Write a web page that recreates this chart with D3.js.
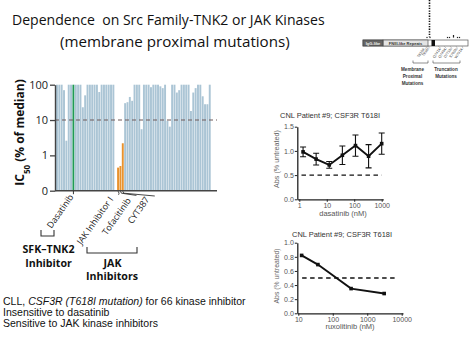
<!DOCTYPE html>
<html><head><meta charset="utf-8">
<script src="https://cdn.jsdelivr.net/npm/d3@7"></script>
<style>body{margin:0;background:#fff} svg{display:block} text{white-space:pre}</style>
</head><body>
<svg id="c" width="474" height="355"></svg>
<script>
// ---------- data ----------
const inhibitorIndex = d3.range(66);
const ic50Values = [100,100,100,70,2.6,100,100,100,100,100,100,23,50,100,100,100,100,100,62,100,
  100,100,100,100,100,0.1,0.45,0.5,2.2,30,32,45,35,100,100,100,5.5,100,100,100,
  85,100,100,100,90,80,100,9.5,6.5,100,100,60,70,100,100,100,100,18,60,80,
  100,100,47,28,28,100];
const highlightIdx = {7:"#1f9a56", 26:"#e8922e", 27:"#e8922e", 28:"#e8922e"};
const icTicks = [0.1, 1, 10, 100];
const icTickLabels = ["0", "1", "10", "100"];
const drugLabels = ["Dasatinib", "JAK Inhibitor I", "Tofacitinib", "CYT387"];
const drugLabelIdx = [7, 26, 27, 28];

const dasaDose = [1.37, 4.1, 12.3, 37, 111, 333, 1000];
const dasaAbs  = [0.98, 0.83, 0.71, 0.91, 1.11, 0.89, 1.15];
const dasaErr  = [0.10, 0.12, 0.07, 0.19, 0.22, 0.24, 0.22];
const dasaXTicks = [1, 10, 100, 1000];
const dasaYTicks = [0, 0.5, 1.0, 1.5];

const ruxDose = [12.5, 37, 340, 3100];
const ruxAbs  = [0.82, 0.69, 0.35, 0.28];
const ruxXTicks = [10, 100, 1000, 10000];
const ruxYTicks = [0, 0.2, 0.4, 0.6, 0.8, 1.0];

const truncLabels = ["Q741X", "Q749X", "D771fs", "S783fs", "W791X"];
const mpLabels = ["T615A", "T618I"];

// ---------- helpers ----------
const svg = d3.select("#c");
function fit(sel, w) {
  const cur = parseFloat(sel.attr("font-size"));
  const len = sel.node().getComputedTextLength();
  sel.attr("font-size", (cur * w / len).toFixed(2));
  return sel;
}
const SANS = "'Open Sans', 'Noto Sans', sans-serif";
const ARIAL = "'Liberation Sans', Arial, sans-serif";

// ---------- title ----------
const t1 = svg.append("text").attr("x", 12).attr("y", 25).attr("font-family", SANS)
  .attr("font-size", 15).attr("fill", "#111").text("Dependence  on Src Family-TNK2 or JAK Kinases");
fit(t1, 313);
const t2 = svg.append("text").attr("x", 60).attr("y", 47).attr("font-family", SANS)
  .attr("font-size", 15).attr("fill", "#111").text("(membrane proximal mutations)");
fit(t2, 230);

// ---------- bar chart ----------
const y = d3.scaleLog().domain([0.1, 100]).range([190.7, 84.7]);
const x = d3.scaleBand().domain(inhibitorIndex).range([56, 210.7]).paddingInner(0.18).paddingOuter(0);
const bg = svg.append("g");
bg.selectAll("rect").data(ic50Values).join("rect")
  .attr("x", (d, i) => x(i)).attr("width", x.bandwidth())
  .attr("y", d => y(d)).attr("height", d => y(0.1) - y(d))
  .attr("fill", (d, i) => highlightIdx[i] || "#abc5d5");

bg.append("line").attr("x1", 55).attr("x2", 217).attr("y1", y(10)).attr("y2", y(10))
  .attr("stroke", "#6e5a5a").attr("stroke-width", 1.1).attr("stroke-dasharray", "4,3");

const ya = bg.append("g").attr("transform", "translate(55,0)")
  .call(d3.axisLeft(y).tickValues(icTicks).tickFormat((d, i) => icTickLabels[i]).tickSize(5).tickSizeOuter(0).tickPadding(2));
ya.select(".domain").attr("stroke", "#444").attr("stroke-width", 1.4);
ya.selectAll(".tick line").attr("stroke", "#444").attr("stroke-width", 1.3);
ya.selectAll(".tick text").attr("font-family", SANS).attr("font-size", 11).attr("fill", "#222");
bg.append("line").attr("x1", 55).attr("x2", 217).attr("y1", y(0.1)).attr("y2", y(0.1))
  .attr("stroke", "#444").attr("stroke-width", 1.4);

const yl = bg.append("text").attr("transform", `translate(24,${132.5}) rotate(-90)`)
  .attr("text-anchor", "middle").attr("font-family", SANS).attr("font-weight", "bold")
  .attr("font-size", 12).attr("fill", "#111");
yl.append("tspan").text("IC");
yl.append("tspan").attr("font-size", 8).attr("baseline-shift", "sub").text("50");
yl.append("tspan").text(" (% of median)");

// drug labels
const labelOffset = [{dx: 0.5, dy: 197}, {dx: -4.5, dy: 199.5}, {dx: 11, dy: 200.5}, {dx: 27, dy: 199.5}];
const base = y(0.1);
const drugTexts = [];
drugLabels.forEach((name, k) => {
  const cx = x(drugLabelIdx[k]) + x.bandwidth() / 2;
  const ax = cx + labelOffset[k].dx, ay = labelOffset[k].dy;
  if (k === 0) {
    bg.append("line").attr("x1", cx).attr("x2", cx).attr("y1", base).attr("y2", base + 3.5)
      .attr("stroke", "#333").attr("stroke-width", 1);
  } else {
    bg.append("polyline").attr("points", `${cx},${base + 0.5} ${cx + 1},${base + 2.5} ${ax + 5},${base + 3.5 + k * 0.6}`)
      .attr("fill", "none").attr("stroke", "#333").attr("stroke-width", 0.9);
  }
  drugTexts.push(bg.append("text").attr("transform", `translate(${ax},${ay}) rotate(-55)`)
    .attr("text-anchor", "end").attr("font-family", SANS).attr("font-size", 10)
    .attr("fill", "#222").text(name));
});
fit(drugTexts[1], 56);
drugTexts.forEach(t => t.attr("font-size", drugTexts[1].attr("font-size")));

// brackets
bg.append("path").attr("d", "M41,230V236H54V230").attr("fill", "none").attr("stroke", "#333").attr("stroke-width", 1.1);
bg.append("path").attr("d", "M87,247V253H137V247").attr("fill", "none").attr("stroke", "#333").attr("stroke-width", 1.1);
const grpText = [["SFK\u2013TNK2", 48.5, 252.7], ["Inhibitor", 48.5, 266.7], ["JAK", 112.5, 267.3], ["Inhibitors", 112, 280]];
const grpSel = grpText.map(([s, gx, gy]) => bg.append("text").attr("x", gx).attr("y", gy).attr("text-anchor", "middle")
    .attr("font-family", SANS).attr("font-weight", "bold").attr("font-size", 11).attr("fill", "#111").text(s));
fit(grpSel[0], 52);
grpSel.forEach(t => t.attr("font-size", grpSel[0].attr("font-size")));

// bottom notes (separate pieces so nothing overlaps)
const NOTE = ARIAL;
const noteY = [304.8, 316.1, 327.4];
const probe = svg.append("text").attr("font-family", NOTE).attr("font-size", 10)
  .text("CLL, CSF3R (T618I mutation) for 66 kinase inhibitor");
const noteFs = 10 * 243 / probe.node().getComputedTextLength();
probe.remove();
const pieces = [["CLL,", "normal"], ["CSF3R (T618I mutation)", "italic"], ["for 66 kinase inhibitor", "normal"]];
let px0 = 3;
const spaceW = noteFs * 0.278;
pieces.forEach(([s, st]) => {
  const t = svg.append("text").attr("x", px0).attr("y", noteY[0]).attr("font-family", NOTE)
    .attr("font-size", noteFs).attr("font-style", st).attr("fill", "#111").text(s);
  px0 += t.node().getComputedTextLength() + spaceW;
});
svg.append("text").attr("x", 3).attr("y", noteY[1]).attr("font-family", NOTE).attr("font-size", noteFs).attr("fill", "#111").text("Insensitive to dasatinib");
svg.append("text").attr("x", 3).attr("y", noteY[2]).attr("font-family", NOTE).attr("font-size", noteFs).attr("fill", "#111").text("Sensitive to JAK kinase inhibitors");

// ---------- dose-response charts ----------
function doseChart(o) {
  const g = svg.append("g");
  const xs = d3.scaleLog().domain(o.xDom).range([297.3, o.xEnd]);
  const ys = d3.scaleLinear().domain(o.yDom).range([o.y0, o.y1]);
  const xa = g.append("g").attr("transform", `translate(0,${o.y0})`)
    .call(d3.axisBottom(xs).tickValues(o.xTicks).tickFormat(d3.format("d")).tickSize(2.5).tickSizeOuter(0).tickPadding(1));
  const yaa = g.append("g").attr("transform", "translate(297.3,0)")
    .call(d3.axisLeft(ys).tickValues(o.yTicks).tickFormat(d3.format(".1f")).tickSize(2.5).tickSizeOuter(0).tickPadding(1));
  [xa, yaa].forEach(a => {
    a.select(".domain").attr("stroke", "#222").attr("stroke-width", 1.3);
    a.selectAll(".tick line").attr("stroke", "#222").attr("stroke-width", 1);
    a.selectAll(".tick text").attr("font-family", ARIAL).attr("font-size", 7).attr("fill", "#555");
  });
  g.append("line").attr("x1", xs(o.dashFrom)).attr("x2", xs(o.dashTo)).attr("y1", ys(0.5)).attr("y2", ys(0.5))
    .attr("stroke", "#111").attr("stroke-width", 1.4).attr("stroke-dasharray", "4.5,3.5");
  if (o.err) {
    o.dose.forEach((d, i) => {
      const cx = xs(d), lo = ys(o.abs[i] - o.err[i]), hi = ys(o.abs[i] + o.err[i]);
      g.append("path").attr("d", `M${cx},${lo}V${hi}M${cx - 3},${lo}H${cx + 3}M${cx - 3},${hi}H${cx + 3}`)
        .attr("stroke", "#111").attr("stroke-width", 1.1).attr("fill", "none");
    });
  }
  g.append("path").datum(o.dose.map((d, i) => [d, o.abs[i]]))
    .attr("d", d3.line().x(d => xs(d[0])).y(d => ys(d[1])))
    .attr("fill", "none").attr("stroke", "#111").attr("stroke-width", 1.9);
  g.selectAll("rect.pt").data(o.dose).join("rect")
    .attr("x", d => xs(d) - 1.8).attr("y", (d, i) => ys(o.abs[i]) - 1.8).attr("width", 3.6).attr("height", 3.6).attr("fill", "#111");
  const tt = g.append("text").attr("x", o.titleX).attr("y", o.titleY).attr("font-family", ARIAL)
    .attr("font-size", 9).attr("fill", "#333").text("CNL Patient #9; CSF3R T618I");
  fit(tt, 100);
  g.append("text").attr("x", o.xLabX).attr("y", o.xLabY).attr("text-anchor", "middle").attr("font-family", ARIAL)
    .attr("font-size", 7.5).attr("fill", "#555").text(o.xLabel);
  const yt = g.append("text").attr("transform", `translate(279,${o.yLabY}) rotate(-90)`).attr("text-anchor", "middle")
    .attr("font-family", ARIAL).attr("font-size", 6.5).attr("fill", "#666").text("Abs (% untreated)");
  fit(yt, o.yLabLen);
}
doseChart({xDom: [0.845, 1144], xEnd: 383.3, yDom: [0, 1.5], y0: 199.3, y1: 126.7,
  xTicks: dasaXTicks, yTicks: dasaYTicks, dose: dasaDose, abs: dasaAbs, err: dasaErr,
  dashFrom: 1.2, dashTo: 1000, titleX: 280, titleY: 118, xLabel: "dasatinib (nM)", xLabX: 343, xLabY: 215.5,
  yLabY: 159, yLabLen: 58});
doseChart({xDom: [9.35, 10900], xEnd: 403, yDom: [0, 1], y0: 313.3, y1: 242.7,
  xTicks: ruxXTicks, yTicks: ruxYTicks, dose: ruxDose, abs: ruxAbs, err: null,
  dashFrom: 12.9, dashTo: 7800, titleX: 292, titleY: 237, xLabel: "ruxolitinib (nM)", xLabX: 350, xLabY: 329,
  yLabY: 276, yLabLen: 55});

// ---------- CSF3R schematic ----------
const pg = svg.append("g");
pg.append("line").attr("x1", 429.5).attr("x2", 429.5).attr("y1", 0).attr("y2", 37)
  .attr("stroke", "#111").attr("stroke-width", 1.6).attr("stroke-dasharray", "1.3,1.3");
pg.append("rect").attr("x", 363).attr("y", 40).attr("width", 105).attr("height", 6).attr("fill", "#fff").attr("stroke", "#555").attr("stroke-width", 0.7);
pg.append("rect").attr("x", 383).attr("y", 40).attr("width", 45).attr("height", 6).attr("fill", "#e4e4e4").attr("stroke", "#555").attr("stroke-width", 0.7);
pg.append("rect").attr("x", 363).attr("y", 40).attr("width", 20).attr("height", 6).attr("fill", "#666").attr("stroke", "#444").attr("stroke-width", 0.7);
pg.append("rect").attr("x", 431.5).attr("y", 40).attr("width", 3.5).attr("height", 6).attr("fill", "#111");
pg.append("text").attr("x", 373).attr("y", 44.6).attr("text-anchor", "middle").attr("font-family", ARIAL)
  .attr("font-size", 4).attr("font-weight", "bold").attr("fill", "#eee").text("IgG-like");
pg.append("text").attr("x", 405.5).attr("y", 44.6).attr("text-anchor", "middle").attr("font-family", ARIAL)
  .attr("font-size", 4).attr("font-weight", "bold").attr("fill", "#333").text("FNIII-like Repeats");
[[427, 37.5], [430, 37.5], [447.5, 37.5], [449.5, 37.5], [453.5, 36.5], [457.5, 37.5], [459.5, 37.5]].forEach(([px, py], i) => {
  pg.append("rect").attr("x", px - 0.6).attr("y", py - (i === 4 ? 1.5 : 0.6)).attr("width", 1.2).attr("height", i === 4 ? 2.6 : 1.2).attr("fill", "#222");
});
mpLabels.forEach((s, i) => {
  const ax = 425 + i * 4;
  pg.append("line").attr("x1", 429).attr("y1", 46).attr("x2", ax).attr("y2", 48.5).attr("stroke", "#777").attr("stroke-width", 0.4);
  pg.append("text").attr("transform", `translate(${ax},${49}) rotate(-55)`).attr("text-anchor", "end")
    .attr("font-family", ARIAL).attr("font-size", 3.6).attr("fill", "#444").text(s);
});
truncLabels.forEach((s, i) => {
  const ax = 441 + i * 5.5;
  pg.append("line").attr("x1", 438 + i * 6).attr("y1", 46).attr("x2", ax).attr("y2", 48.5).attr("stroke", "#777").attr("stroke-width", 0.4);
  pg.append("text").attr("transform", `translate(${ax},${49}) rotate(-55)`).attr("text-anchor", "end")
    .attr("font-family", ARIAL).attr("font-size", 3.6).attr("fill", "#444").text(s);
});
pg.append("path").attr("d", "M413,60.5V63H428V60.5").attr("fill", "none").attr("stroke", "#444").attr("stroke-width", 0.6);
pg.append("path").attr("d", "M433,60.5V63H460V60.5").attr("fill", "none").attr("stroke", "#444").attr("stroke-width", 0.6);
[["Membrane", 412.5, 71], ["Proximal", 412.5, 78], ["Mutations", 412.5, 85], ["Truncation", 446, 71], ["Mutations", 446, 78]].forEach(([s, px, py]) => {
  pg.append("text").attr("x", px).attr("y", py).attr("text-anchor", "middle").attr("font-family", ARIAL)
    .attr("font-size", 4.6).attr("font-weight", "bold").attr("fill", "#333").text(s);
});
</script>
</body></html>
